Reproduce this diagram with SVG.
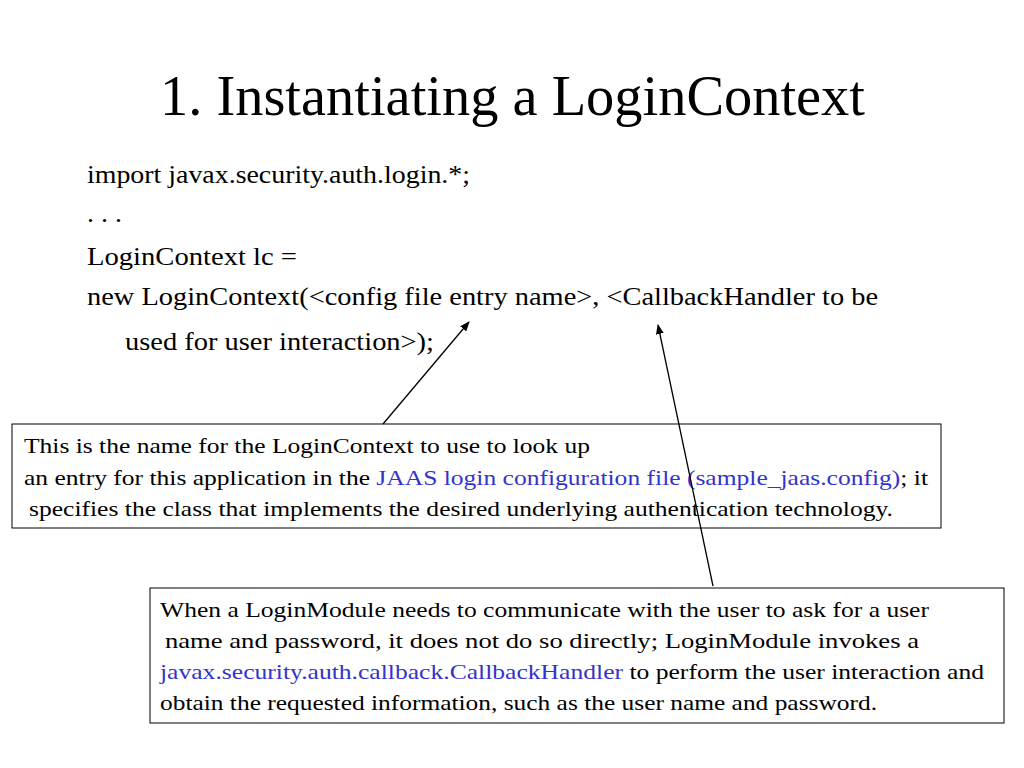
<svg xmlns="http://www.w3.org/2000/svg" width="1024" height="768" viewBox="0 0 1024 768">
<style>
text{font-family:"Liberation Serif","Times New Roman",serif;fill:#000}
.c{font-size:25px}.b{font-size:22px}.blue{fill:#3333cc}
.box{fill:#fff;stroke:#000;stroke-width:1}
</style>
<defs><marker id="ah" markerWidth="10" markerHeight="8" refX="9" refY="4" orient="auto" markerUnits="userSpaceOnUse"><path d="M0,0 L10,4 L0,8 z" fill="#000"/></marker></defs>
<rect width="1024" height="768" fill="#fff"/>
<text x="160" y="115" font-size="56" textLength="705" lengthAdjust="spacingAndGlyphs">1. Instantiating a LoginContext</text>
<g id="code">
<text class="c" x="87" y="183" textLength="383" lengthAdjust="spacingAndGlyphs">import javax.security.auth.login.*;</text>
<text class="c" x="87" y="222" textLength="35" lengthAdjust="spacingAndGlyphs">. . .</text>
<text class="c" x="87" y="265" textLength="210" lengthAdjust="spacingAndGlyphs">LoginContext lc =</text>
<text class="c" x="87" y="305" textLength="791" lengthAdjust="spacingAndGlyphs">new LoginContext(&lt;config file entry name&gt;, &lt;CallbackHandler to be</text>
<text class="c" x="125" y="350" textLength="309" lengthAdjust="spacingAndGlyphs">used for user interaction&gt;);</text>
</g>
<g id="box1">
<rect class="box" x="12" y="424" width="929" height="104"/>
<text class="b" x="24" y="453" textLength="566" lengthAdjust="spacingAndGlyphs">This is the name for the LoginContext to use to look up</text>
<text class="b" x="24" y="485" textLength="904" lengthAdjust="spacingAndGlyphs">an entry for this application in the <tspan class="blue">JAAS login configuration file (sample_jaas.config)</tspan>; it</text>
<text class="b" x="29" y="516" textLength="864" lengthAdjust="spacingAndGlyphs">specifies the class that implements the desired underlying authentication technology.</text>
</g>
<g id="box2">
<rect class="box" x="150" y="588" width="854" height="135"/>
<text class="b" x="160" y="617" textLength="769" lengthAdjust="spacingAndGlyphs">When a LoginModule needs to communicate with the user to ask for a user</text>
<text class="b" x="165" y="648" textLength="754" lengthAdjust="spacingAndGlyphs">name and password, it does not do so directly; LoginModule invokes a</text>
<text class="b" x="160" y="679" textLength="824" lengthAdjust="spacingAndGlyphs"><tspan class="blue">javax.security.auth.callback.CallbackHandler</tspan> to perform the user interaction and</text>
<text class="b" x="160" y="710" textLength="717" lengthAdjust="spacingAndGlyphs">obtain the requested information, such as the user name and password.</text>
</g>
<g id="connectors" stroke="#000" stroke-width="1.3">
<line x1="383" y1="424" x2="469" y2="322" marker-end="url(#ah)"/>
<line x1="713" y1="586" x2="658" y2="325" marker-end="url(#ah)"/>
</g>
</svg>
